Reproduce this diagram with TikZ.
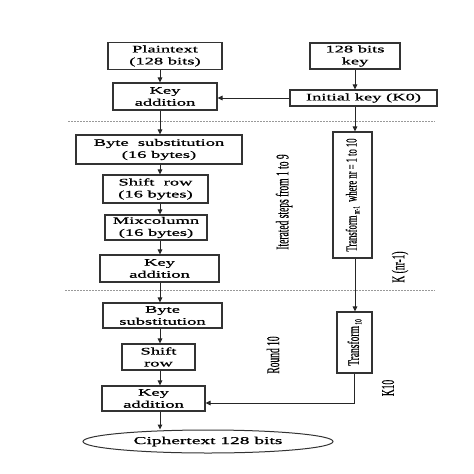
\documentclass[tikz,border=0pt]{standalone}
\usepackage{fontspec}
\setmainfont[FakeStretch=1.85,FakeBold=0.9]{Liberation Serif}
\newfontfamily\rotfont[FakeBold=0.5]{Liberation Serif}
\usetikzlibrary{arrows.meta,shapes.geometric}
\begin{document}
\begin{tikzpicture}[x=1pt,y=-1pt,
  box/.style={draw=black!80, line width=1.1pt, inner sep=0pt, align=center,
    font=\fontsize{10}{12}\selectfont},
  arr/.style={-{Triangle[length=5pt,width=4.5pt]}, line width=1pt, draw=black!85},
  dline/.style={draw=black!40, dash pattern=on 2pt off 1pt, line width=0.7pt},
  rot/.style={rotate=90, inner sep=0pt},
  rtext/.style={font=\rotfont\fontsize{9.5}{10}\selectfont}]
\useasboundingbox[fill=white] (0,0) rectangle (474,474);
% left column
\node[box, minimum width=114pt, minimum height=27pt] (pt) at (165,56) {Plaintext\\(128 bits)};
\node[box, minimum width=104pt, minimum height=27pt] (ka1) at (165,96.5) {Key\\addition};
\node[box, minimum width=166pt, minimum height=29pt] (bs1) at (159,149.5) {Byte\ \ substitution\\(16 bytes)};
\node[box, minimum width=105pt, minimum height=28pt] (sr1) at (155.5,189) {Shift\ \ row\\(16 bytes)};
\node[box, minimum width=102pt, minimum height=25pt] (mc) at (156,227.5) {Mixcolumn\\(16 bytes)};
\node[box, minimum width=119pt, minimum height=27pt] (ka2) at (159.5,268.5) {Key\\addition};
\node[box, minimum width=119pt, minimum height=25pt] (bs2) at (162.5,315.5) {Byte\\substitution};
\node[box, minimum width=73pt, minimum height=26pt] (sr2) at (158.5,357) {Shift\\row};
\node[box, minimum width=103pt, minimum height=25pt] (ka3) at (153.5,398.5) {Key\\addition};
\node[draw=black!80, line width=1pt, ellipse, inner sep=0pt, minimum width=250pt, minimum height=23pt,
  font=\fontsize{10.5}{12}\selectfont] (ct) at (208,441.5) {Ciphertext 128 bits};
% right column
\node[box, minimum width=90pt, minimum height=26pt] (key) at (355,56) {128 bits\\key};
\node[box, minimum width=147pt, minimum height=16pt] (ik) at (363.5,98) {Initial key (K0)};
\node[box, minimum width=39pt, minimum height=126pt] (tr1) at (352.5,195) {};
\node[rot, rtext, font=\rotfont\fontsize{8.6}{10}\selectfont] (tr1t) at (tr1.center) {\scalebox{1}[1.8]{Transform\raisebox{-1.5pt}{\fontsize{5}{6}\selectfont\ nr-1}\ \ where nr = 1 to 10}};
\node[box, minimum width=35pt, minimum height=61pt] (tr2) at (354.5,342.5) {};
\node[rot, rtext] (tr2t) at (tr2.center) {\scalebox{1}[1.7]{Transform\raisebox{-1.5pt}{\fontsize{5.5}{6}\selectfont\ 10}}};
% labels
\node[rot, rtext] (lit) at (284,202) {\scalebox{1}[1.9]{Iterated steps from 1 to 9}};
\node[rot, rtext] (lknr) at (400,267) {\scalebox{1}[1.9]{K (nr-1)}};
\node[rot, rtext] (lr10) at (273,355) {\scalebox{1}[1.9]{Round 10}};
\node[rot, rtext] (lk10) at (388,388) {\scalebox{1}[1.9]{K10}};
% dashed separators
\coordinate (d1a) at (68,121); \coordinate (d1b) at (435,121);
\coordinate (d2a) at (65,290); \coordinate (d2b) at (435,290);
\draw[dline] (d1a) -- (d1b);
\draw[dline] (d2a) -- (d2b);
% left arrows
\coordinate (ax) at (160,0);
\draw[arr] (pt.south -| ax) -- (ka1.north -| ax);
\draw[arr] (ka1.south -| ax) -- (bs1.north -| ax);
\draw[arr] (bs1.south -| ax) -- (sr1.north -| ax);
\draw[arr] (sr1.south -| ax) -- (mc.north -| ax);
\draw[arr] (mc.south -| ax) -- (ka2.north -| ax);
\draw[arr] (ka2.south -| ax) -- (bs2.north -| ax);
\draw[arr] (bs2.south -| ax) -- (sr2.north -| ax);
\draw[arr] (sr2.south -| ax) -- (ka3.north -| ax);
\draw[arr] (ka3.south -| ax) -- (ct.north -| ax);
% right arrows
\coordinate (rx) at (355,0);
\coordinate (k10) at (354,403);
\draw[arr] (key.south -| rx) -- (ik.north -| rx);
\draw[arr] (ik.west) -- (ik.west -| ka1.east);
\draw[arr] (ik.south -| rx) -- (tr1.north -| rx);
\draw[arr] (tr1.south -| rx) -- (tr2.north -| rx);
\draw[arr] (tr2.south -| k10) -- (k10) -- (k10 -| ka3.east);
\end{tikzpicture}
\end{document}
